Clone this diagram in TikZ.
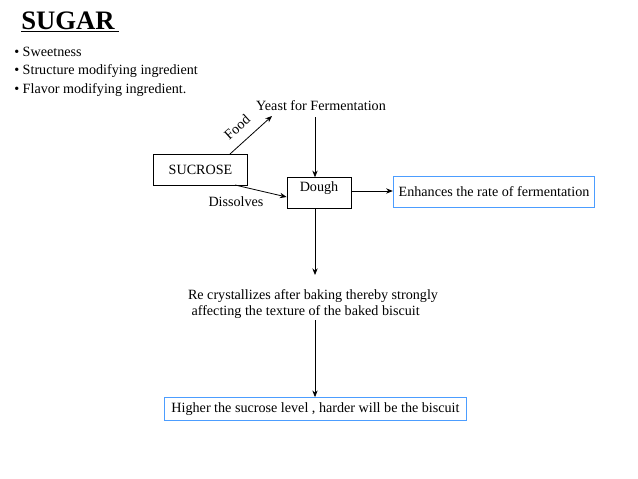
\documentclass[tikz,border=0pt]{standalone}
\usepackage{fontspec}
\setmainfont{Liberation Serif}
\usetikzlibrary{arrows.meta}
\begin{document}
\begin{tikzpicture}[x=0.75pt,y=-0.75pt,
  txt/.style={font=\fontsize{10.6}{12.5}\selectfont, inner sep=0pt},
  box/.style={draw, line width=0.6pt, txt},
  bbox/.style={draw=blue!55!cyan!70!white, line width=0.8pt, txt},
  arr/.style={-{Stealth[length=5pt,width=4pt]}, line width=0.6pt}]
\useasboundingbox[fill=white] (0,0) rectangle (638,478);
\node[anchor=west, font=\fontsize{20}{24}\selectfont\bfseries, inner sep=0pt] (title) at (21,22) {\underline{SUGAR\,}};
\node[txt, anchor=west] (b1) at (14,52) {\textbullet\ Sweetness};
\node[txt, anchor=west] (b2) at (14,71) {\textbullet\ Structure modifying ingredient};
\node[txt, anchor=west] (b3) at (14,90) {\textbullet\ Flavor modifying ingredient.};
\node[box, minimum width=71pt, minimum height=23pt] (suc) at (200.5,170) {SUCROSE};
\node[box, minimum width=48pt, minimum height=23pt, text depth=9pt] (dough) at (319,193) {Dough};
\node[bbox, minimum width=151pt, minimum height=23pt] (enh) at (494,192) {Enhances the rate of fermentation};
\node[txt] (yeast) at (321,106) {Yeast for Fermentation};
\coordinate (yt) at (315,117);
\coordinate (foodend) at (272,116);
\coordinate (foodstart) at (230,154);
\node[txt, rotate=42] (food) at (237,127) {Food};
\node[txt] (diss) at (236,202) {Dissolves};
\node[txt, align=left] (rec) at (313,304) {Re crystallizes after baking thereby strongly\\ \ affecting the texture of the baked biscuit};
\node[bbox, minimum width=227pt, minimum height=17pt] (hi) at (315.5,409) {Higher the sucrose level , harder will be the biscuit};
\draw[arr] (yt) -- (yt |- dough.north);
\draw[arr] (foodstart) -- (foodend);
\draw[arr] (235,185) -- (dough.west |- 0,197);
\draw[arr] (dough.east |- 0,191) -- (enh.west |- 0,191);
\draw[arr] (315,208) -- (315,275);
\draw[arr] (315,320) -- (hi.north -| 315,0);
\end{tikzpicture}
\end{document}
